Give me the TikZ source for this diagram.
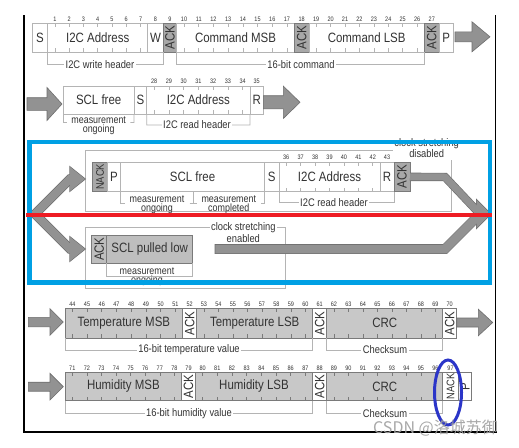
\documentclass[tikz,border=0pt]{standalone}
\usepackage{fontspec}
\setmainfont{Liberation Sans}[FakeStretch=0.85]
\newfontfamily\cjkfont{Noto Sans CJK SC}
\definecolor{txt}{HTML}{333333}
\definecolor{cline}{HTML}{B4B4B4}
\definecolor{dline}{HTML}{7A7A7A}
\definecolor{ackg}{HTML}{A8A8A8}
\definecolor{lg}{HTML}{C8C8C8}
\definecolor{splg}{HTML}{BEBEBE}
\definecolor{arrf}{HTML}{929292}
\definecolor{arrl}{HTML}{6E6E6E}
\definecolor{bluebox}{HTML}{00A0E4}
\definecolor{redl}{HTML}{EE1C24}
\definecolor{ellc}{HTML}{2B35C8}
\tikzset{
  cell/.style={draw=cline, fill=white, line width=0.6, inner sep=0, outer sep=0, text=txt, font=\fontsize{13.5}{14}\selectfont},
  gcell/.style={cell, fill=ackg, draw=dline},
  tcell/.style={cell, fill=lg, draw=dline},
  wcell/.style={cell, draw=dline},
  scell/.style={cell, fill=splg, draw=dline},
  frame/.style={draw=cline, line width=0.6, inner sep=0, outer sep=0},
  num/.style={font=\fontsize{6.5}{6.5}\selectfont, text=txt, inner sep=0},
  tick/.style={draw=cline, line width=0.6},
  tickd/.style={draw=dline, line width=0.6},
  brk/.style={draw=cline, line width=0.6},
  lab/.style={font=\fontsize{11}{8.7}\selectfont, text=txt, fill=white, inner sep=1.5, align=center},
  meas/.style={font=\fontsize{10.5}{9}\selectfont, text=txt, inner sep=0},
  arr/.style={fill=arrf, draw=arrl, line width=0.6},
}
% name, x1, x2, y1, y2, style, text
\newcommand\mycell[7]{\node[#6, minimum width=#3-#2, minimum height=#5-#4] (#1) at ({(#2+#3)/2},{(#4+#5)/2}) {#7};}
% x1, x2, n, first, ytop, ybot, tick style
\newcommand\mybits[7]{%
  \foreach \i in {1,...,#3}{%
    \pgfmathsetmacro\xc{#1+(\i-0.5)*(#2-#1)/#3}%
    \pgfmathtruncatemacro\nn{#4+\i-1}%
    \draw[#7] (\xc,#5)--++(0,4) (\xc,#6)--++(0,-4);
    \node[num] (n\nn) at (\xc,#5-4.5) {\nn};
  }}
\newcommand\mybit[3]{\node[num] (n#2) at (#1,#3-4.5) {#2};}
% x1, xh, x2, yc, sw, hw
\newcommand\myarrow[6]{\draw[arr] (#1,#4-#5) -- (#2,#4-#5) -- (#2,#4-#6) -- (#3,#4) -- (#2,#4+#6) -- (#2,#4+#5) -- (#1,#4+#5) -- cycle;}
\newcommand\rot[1]{\rotatebox{90}{#1}}
\newcommand\rotn[1]{{\fontsize{11}{11}\selectfont\rotatebox{90}{#1}}}
\begin{document}
\begin{tikzpicture}[x=1pt,y=-1pt]
\useasboundingbox (0,0) rectangle (519,447);
\fill[white] (0,0) rectangle (519,447);

% ---------- row 1 ----------
\mycell{s1}{32.3}{47.7}{23.3}{52.3}{cell}{S}
\mycell{a1}{47.7}{147.7}{23.3}{52.3}{cell}{I2C Address}
\mycell{w1}{147.7}{163.3}{23.3}{52.3}{cell}{W}
\mycell{k1}{163.3}{176.7}{23.3}{52.3}{gcell}{\rot{ACK}}
\mycell{cm}{176.7}{294.3}{23.3}{52.3}{cell}{Command MSB}
\mycell{k2}{294.3}{309}{23.3}{52.3}{gcell}{\rot{ACK}}
\mycell{cl}{309}{424.3}{23.3}{52.3}{cell}{Command LSB}
\mycell{k3}{424.3}{439.3}{23.3}{52.3}{gcell}{\rot{ACK}}
\mycell{p1}{439.3}{453.3}{23.3}{52.3}{cell}{P}
\mybits{47.7}{147.7}{7}{1}{23.3}{52.3}{tick}
\mybit{155.5}{8}{23.3}
\mybit{170}{9}{23.3}
\mybits{176.7}{294.3}{8}{10}{23.3}{52.3}{tick}
\mybit{301.6}{18}{23.3}
\mybits{309}{424.3}{8}{19}{23.3}{52.3}{tick}
\mybit{431.8}{27}{23.3}
\draw[brk] (a1.south west) -- (47.7,64.3) -- (163.3,64.3) -- (w1.south east);
\node[lab] (l1) at (100,64.3) {I2C write header};
\draw[brk] (cm.south west) -- (176.7,64.3) -- (424.3,64.3) -- (k3.south west);
\node[lab] (l2) at (301,64.3) {16-bit command};
\myarrow{455}{472}{490}{36.8}{5}{15}

% ---------- row 2 ----------
\myarrow{27}{47}{62}{104}{6.3}{16.5}
\mycell{scl2}{63.3}{134}{86}{114.3}{cell}{SCL free}
\mycell{s2}{134}{146.7}{86}{114.3}{cell}{S}
\mycell{a2}{146.7}{250}{86}{114.3}{cell}{I2C Address}
\mycell{r2}{250}{263.3}{86}{114.3}{cell}{R}
\mybits{146.7}{250}{7}{28}{86}{114.3}{tick}
\mybit{256.7}{35}{86}
\myarrow{263.3}{283.3}{300}{102.3}{6.6}{16.2}
\draw[brk] (scl2.south west) -- (63.3,122.5) -- (67,122.5);
\draw[brk] (scl2.south east) -- (134,122.5) -- (130.3,122.5);
\node[meas] (m2a) at (98.7,120.6) {measurement};
\node[meas] (m2b) at (98.7,130.2) {ongoing};
\draw[brk] (a2.south west) -- (146.7,125) -- (250,125) -- (a2.south east);
\node[lab] (l3) at (197,125) {I2C read header};

% ---------- stretching section: upper ----------
\mycell{fr1}{85}{451.7}{150.7}{211}{frame}{}
\node[lab] (cs1) at (426.7,148.4) {clock stretching\\disabled};
\mycell{nk3}{92.7}{107.3}{162}{191.7}{gcell}{\rotn{NACK}}
\mycell{p3}{107.3}{120.7}{162}{191.7}{cell}{P}
\mycell{scl3}{120.7}{264.3}{162}{191.7}{cell}{SCL free}
\mycell{s3}{264.3}{279}{162}{191.7}{cell}{S}
\mycell{a3}{279}{380}{162}{191.7}{cell}{I2C Address}
\mycell{r3}{380}{394}{162}{191.7}{cell}{R}
\mycell{k4}{394}{410}{162}{191.7}{gcell}{\rot{ACK}}
\mybits{279}{380}{7}{36}{162}{191.7}{tick}
\mybit{387}{43}{162}
\draw[brk] (scl3.south west) -- (120.7,203.5) -- (124.5,203.5);
\draw[brk] (193.3,191.7) -- (193.3,203.5) (189.5,203.5) -- (197.1,203.5);
\draw[brk] (scl3.south east) -- (264.3,203.5) -- (260.5,203.5);
\node[meas] (m3a) at (157,199) {measurement};
\node[meas] (m3b) at (157,208.6) {ongoing};
\node[meas] (m3c) at (228.8,199) {measurement};
\node[meas] (m3d) at (228.8,208.6) {completed};
\draw[brk] (a3.south west) -- (279,202.7) -- (394,202.7) -- (r3.south east);
\node[lab] (l4) at (334,202.7) {I2C read header};

% ---------- stretching section: lower ----------
\mycell{fr2}{85}{285}{227}{288}{frame}{}
\node[lab] (cs2) at (243.3,232.5) {clock stretching\\enabled};
\mycell{k5}{91.7}{106.7}{235}{263.3}{scell}{\rot{ACK}}
\mycell{spl}{106.7}{192.7}{235}{263.3}{scell}{SCL pulled low}
\draw[brk] (spl.south west) -- (106.7,276) -- (192.7,276) -- (spl.south east);
\node[meas] (m5a) at (147,271.3) {measurement};
\node[meas] (m5b) at (147,281.2) {ongoing};

% fork arrow (left)
\draw[arrl, line width=9.3, line join=miter] (76,179) -- (70,179) -- (35,214) -- (70,249) -- (76,249);
\draw[arrl, line width=1.3] (70,167) -- (85,179) -- (70,191) -- cycle;
\draw[arrl, line width=1.3] (70,237) -- (85,249) -- (70,261) -- cycle;
\draw[arrf, line width=8, line join=miter] (76,179) -- (70,179) -- (35,214) -- (70,249) -- (76,249);
\fill[arrf] (70,167) -- (85,179) -- (70,191) -- cycle;
\fill[arrf] (70,237) -- (85,249) -- (70,261) -- cycle;

% merge arrow (right)
\draw[arrl, line width=8.3, line join=miter] (k4.east) -- (445,177) -- (480,214);
\draw[arrl, line width=9.8, line join=miter, line cap=rect] (219.5,249) -- (445,249) -- (480,214);
\draw[arrl, line width=1.3] (476.7,200) -- (490.7,214) -- (476.7,228) -- cycle;
\draw[arrf, line width=7, line join=miter] (k4.east) -- (445,177) -- (480,214);
\draw[arrf, line width=8.5, line join=miter, line cap=rect] (219.5,249) -- (445,249) -- (480,214);
\fill[arrf] (476.7,200) -- (490.7,214) -- (476.7,228) -- cycle;

% ---------- row 4 ----------
\myarrow{28.3}{50}{63.3}{322}{4.7}{13.3}
\mycell{tm}{65}{182.7}{308.3}{338.3}{tcell}{Temperature MSB}
\mycell{k6}{182.7}{196.7}{308.3}{338.3}{wcell}{\rot{ACK}}
\mycell{tl}{196.7}{312.7}{308.3}{338.3}{tcell}{Temperature LSB}
\mycell{k7}{312.7}{326.7}{308.3}{338.3}{wcell}{\rot{ACK}}
\mycell{crc1}{326.7}{442.7}{308.3}{338.3}{tcell}{CRC}
\mycell{k8}{442.7}{456.7}{308.3}{338.3}{wcell}{\rot{ACK}}
\mybits{65}{182.7}{8}{44}{308.3}{338.3}{tickd}
\mybit{189.7}{52}{308.3}
\mybits{196.7}{312.7}{8}{53}{308.3}{338.3}{tickd}
\mybit{319.7}{61}{308.3}
\mybits{326.7}{442.7}{8}{62}{308.3}{338.3}{tickd}
\mybit{449.7}{70}{308.3}
\myarrow{456.7}{478.3}{492.7}{322.5}{4.5}{13.3}
\draw[brk] (tm.south west) -- (65,350) -- (312.7,350) -- (tl.south east);
\node[lab] (l5) at (189,350) {16-bit temperature value};
\draw[brk] (crc1.south west) -- (326.7,350) -- (442.7,350) -- (crc1.south east);
\node[lab] (l6) at (385,350) {Checksum};

% ---------- row 5 ----------
\myarrow{28.3}{50}{63.3}{386.7}{4.5}{13.3}
\mycell{hm}{65}{181.7}{372.3}{400.7}{tcell}{Humidity MSB}
\mycell{k9}{181.7}{195.3}{372.3}{400.7}{wcell}{\rot{ACK}}
\mycell{hl}{195.3}{312.7}{372.3}{400.7}{tcell}{Humidity LSB}
\mycell{k10}{312.7}{326.7}{372.3}{400.7}{wcell}{\rot{ACK}}
\mycell{crc2}{326.7}{442.7}{372.3}{400.7}{tcell}{CRC}
\mycell{nk5}{442.7}{458.3}{372.3}{400.7}{wcell}{\rotn{NACK}}
\mycell{p5}{458.3}{471.7}{372.3}{400.7}{wcell}{\rot{P}}
\mybits{65}{181.7}{8}{71}{372.3}{400.7}{tickd}
\mybit{188.5}{79}{372.3}
\mybits{195.3}{312.7}{8}{80}{372.3}{400.7}{tickd}
\mybit{319.7}{88}{372.3}
\mybits{326.7}{442.7}{8}{89}{372.3}{400.7}{tickd}
\mybit{450.5}{97}{372.3}
\draw[brk] (hm.south west) -- (65,413.3) -- (312.7,413.3) -- (hl.south east);
\node[lab] (l7) at (189,413.3) {16-bit humidity value};
\draw[brk] (crc2.south west) -- (326.7,413.3) -- (442.7,413.3) -- (crc2.south east);
\node[lab] (l8) at (385,413.3) {Checksum};

% ---------- outer frame ----------
\draw[line width=1.3] (24,15) -- (24,432);
\draw[line width=1.3] (495.3,15) -- (495.3,432);
\draw[line width=2.5] (23,432) -- (496.5,432);

% ---------- annotations ----------
\draw[bluebox, line width=4.5] (29.3,141.8) rectangle (490.2,282.5);
\draw[redl, line width=4] (26,215) -- (491.7,215);
\draw[ellc, line width=3] (448,392.5) ellipse [x radius=13.5, y radius=32.5];
\node[font=\cjkfont\fontsize{16}{16}\selectfont, text=gray!75, opacity=0.9, inner sep=0] (wm) at (435.5,428) {CSDN @洛城苏御};
\end{tikzpicture}
\end{document}
